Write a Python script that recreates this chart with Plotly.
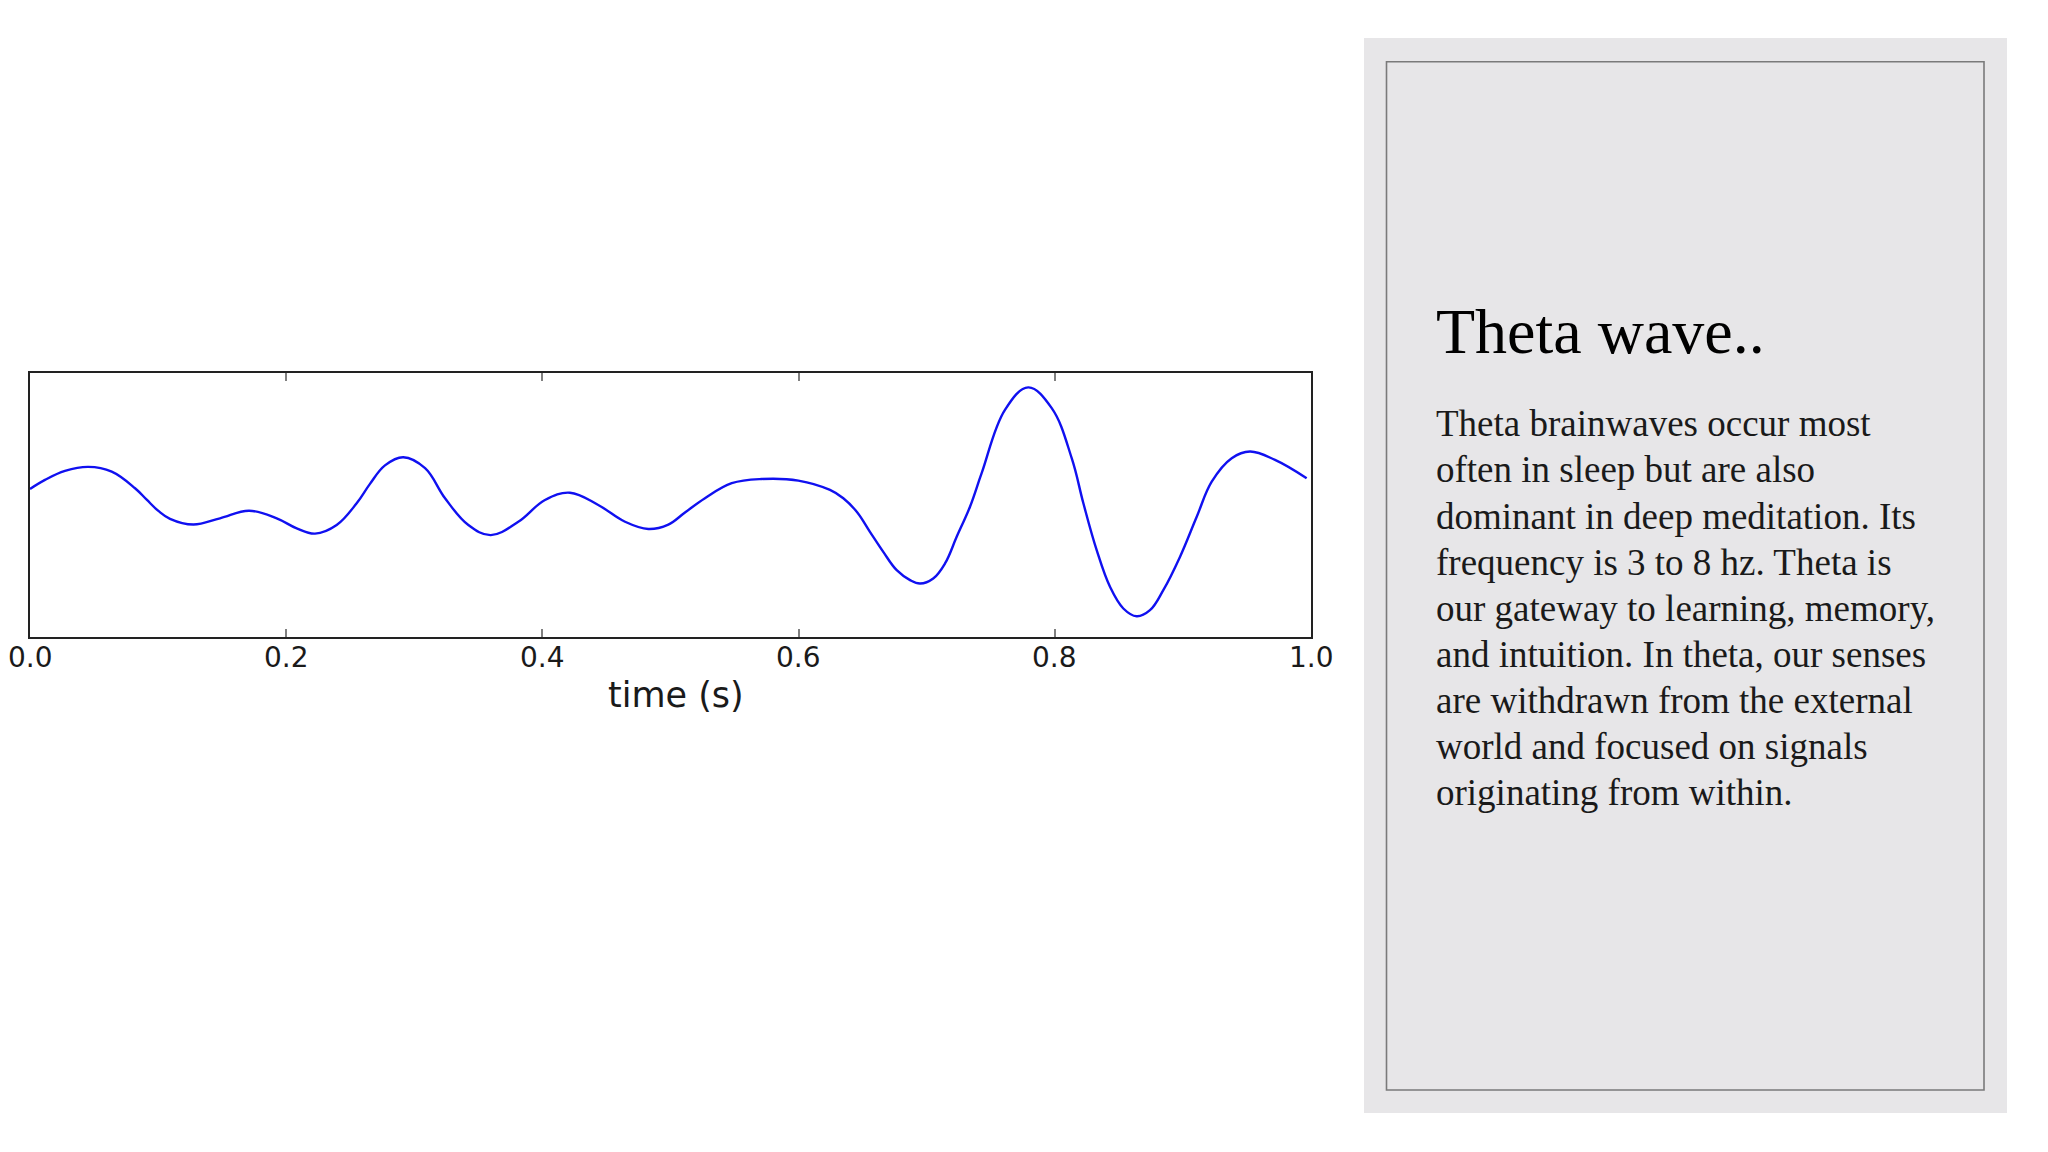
import plotly.graph_objects as go

# ---- data ----
time_s = [0.000, 0.0117, 0.0273, 0.0455, 0.0638, 0.0820, 0.0911, 0.1002, 0.1093, 0.1275,
          0.1483, 0.1710, 0.1926, 0.2082, 0.2225, 0.2394, 0.2550, 0.2654, 0.2771, 0.2914,
          0.3084, 0.3240, 0.3422, 0.3597, 0.3812, 0.4020, 0.4215, 0.4436, 0.4645, 0.4827,
          0.4983, 0.5113, 0.5269, 0.5478, 0.5712, 0.5998, 0.6245, 0.6349, 0.6454, 0.6557,
          0.6661, 0.6766, 0.6870, 0.6948, 0.7051, 0.7143, 0.7234, 0.7338, 0.7429, 0.7611,
          0.7793, 0.7976, 0.8132, 0.8223, 0.8327, 0.8431, 0.8535, 0.8639, 0.8743, 0.8847,
          0.8977, 0.9108, 0.9225, 0.9381, 0.9524, 0.9719, 0.9966]
amplitude = [0.121, 0.190, 0.258, 0.289, 0.253, 0.127, 0.040, -0.045, -0.105, -0.148,
             -0.101, -0.043, -0.101, -0.177, -0.217, -0.152, 0.013, 0.160, 0.300, 0.362,
             0.279, 0.051, -0.152, -0.228, -0.127, 0.038, 0.093, 0.000, -0.127, -0.182,
             -0.148, -0.057, 0.051, 0.165, 0.197, 0.185, 0.114, 0.051, -0.051, -0.203,
             -0.355, -0.494, -0.569, -0.595, -0.557, -0.443, -0.241, -0.013, 0.241, 0.721,
             0.891, 0.734, 0.355, 0.013, -0.342, -0.620, -0.784, -0.843, -0.797, -0.645,
             -0.393, -0.089, 0.177, 0.355, 0.405, 0.342, 0.203]
x_ticks = [0.0, 0.2, 0.4, 0.6, 0.8, 1.0]
x_tick_labels = ["0.0", "0.2", "0.4", "0.6", "0.8", "1.0"]
x_label = "time (s)"

title_text = "Theta wave.."
body_lines = [
    "Theta brainwaves occur most",
    "often in sleep but are also",
    "dominant in deep meditation. Its",
    "frequency is 3 to 8 hz. Theta is",
    "our gateway to learning, memory,",
    "and intuition. In theta, our senses",
    "are withdrawn from the external",
    "world and focused on signals",
    "originating from within.",
]

# ---- layout geometry (pixels) ----
W, H = 2048, 1152
L, R, T, B = 30, 1311, 373.3, 636.7
PW, PH = R - L, B - T


def px(x):
    return (x - L) / PW


def py(y):
    return (B - y) / PH


fig = go.Figure()
fig.add_trace(go.Scatter(
    x=time_s, y=amplitude, mode="lines",
    line=dict(color="#1010f0", width=2.4, shape="spline", smoothing=1.1),
    hoverinfo="skip", showlegend=False,
))

shapes = [
    # grey side panel
    dict(type="rect", xref="paper", yref="paper", layer="below",
         x0=px(1364), x1=px(2007), y0=py(39), y1=py(1111.5),
         fillcolor="#e7e6e8", line=dict(width=0)),
    # inner border
    dict(type="rect", xref="paper", yref="paper", layer="below",
         x0=px(1386.5), x1=px(1984), y0=py(62.7), y1=py(1088.7),
         fillcolor="rgba(0,0,0,0)", line=dict(color="#7a7a7a", width=1.6)),
]

annotations = []
# tick labels, placed on the x axis scale
for v, lab in zip(x_ticks, x_tick_labels):
    annotations.append(dict(
        text=lab, xref="x", yref="paper", x=v, y=py(657),
        xanchor="center", yanchor="middle", showarrow=False,
        font=dict(family="DejaVu Sans", size=28, color="#1a1a1a")))

annotations += [
    dict(text=x_label, xref="paper", yref="paper", x=px(676), y=py(695),
         xanchor="center", yanchor="middle", showarrow=False,
         font=dict(family="DejaVu Sans", size=35, color="#1a1a1a")),
    dict(text=title_text, xref="paper", yref="paper", x=px(1434), y=py(332),
         xanchor="left", yanchor="middle", showarrow=False,
         font=dict(family="Liberation Serif", size=64, color="#000000")),
]
for i, line in enumerate(body_lines):
    annotations.append(dict(
        text=line, xref="paper", yref="paper", x=px(1434), y=py(424 + 46 * i),
        xanchor="left", yanchor="middle", showarrow=False,
        font=dict(family="Liberation Serif", size=37, color="#1a1a1a")))

fig.update_layout(
    width=W, height=H, autosize=False,
    margin=dict(l=L, r=W - R, t=T, b=H - B, pad=0),
    paper_bgcolor="#ffffff", plot_bgcolor="#ffffff",
    shapes=shapes, annotations=annotations,
    xaxis=dict(range=[0, 1], tickvals=x_ticks, showticklabels=False,
               ticks="inside", ticklen=8, tickwidth=2, tickcolor="#808080",
               showline=True, linecolor="#222222", linewidth=2.4, mirror="ticks",
               showgrid=False, zeroline=False, automargin=False),
    yaxis=dict(range=[-1, 1], showticklabels=False, ticks="",
               showline=True, linecolor="#222222", linewidth=2.4, mirror=True,
               showgrid=False, zeroline=False, automargin=False),
)

fig.write_html("out.html")
